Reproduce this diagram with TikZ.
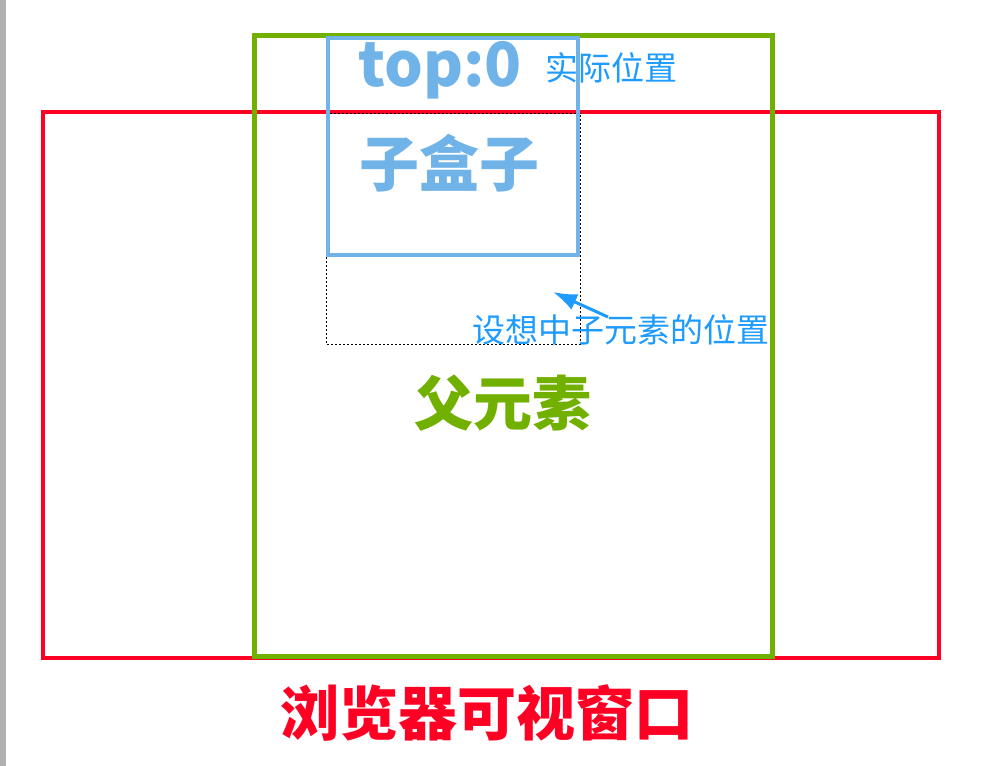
\documentclass[tikz,border=0pt]{standalone}
\usepackage{fontspec}
\newfontfamily\cjk{Noto Sans CJK SC}
\IfFontExistsTF{Noto Sans CJK SC Black}
  {\newfontfamily\cjkb{Noto Sans CJK SC Black}}
  {\newfontfamily\cjkb{Noto Sans CJK SC Bold}}
\usetikzlibrary{arrows.meta}
\definecolor{redc}{HTML}{FF0024}
\definecolor{greenc}{HTML}{72B000}
\definecolor{boxblue}{HTML}{6FB3E8}
\definecolor{textblue}{HTML}{1E9BFF}
\definecolor{grayc}{HTML}{B0B0B0}
\begin{document}
\begin{tikzpicture}[x=1pt,y=-1pt,
  lbl/.style={inner sep=0pt,anchor=center},
  bigtxt/.style={lbl,font=\cjkb\fontsize{58}{58}\selectfont},
  smalltxt/.style={lbl,font=\cjk\fontsize{33}{33}\selectfont,text=textblue}]
\useasboundingbox[fill=white] (0,0) rectangle (1005,766);
\fill[grayc] (0,0) rectangle (6,766);
\draw[redc,line width=4.5pt] (43,112) rectangle (939,658);
\draw[greenc,line width=5pt] (254,35) rectangle (772,656);
\draw[black,line width=0.7pt,dash pattern=on 2pt off 2pt] (326,113) rectangle (580,344);
\draw[boxblue,line width=4.5pt] (328,38) rectangle (578,255);
\node[lbl,font=\cjkb\fontsize{61}{61}\selectfont,text=boxblue] (top) at (440,70) {top:0};
\node[bigtxt,text=boxblue,font=\cjkb\fontsize{60}{60}\selectfont] (child) at (449,163) {子盒子};
\node[smalltxt] (actual) at (611,68) {实际位置};
\node[smalltxt] (assume) at (621,330) {设想中子元素的位置};
\node[bigtxt,text=greenc,font=\cjkb\fontsize{59}{59}\selectfont] (parent) at (503,403) {父元素};
\node[bigtxt,text=redc,font=\cjkb\fontsize{59}{59}\selectfont] (viewport) at (487,713) {浏览器可视窗口};
\coordinate (tail) at (608,317);
\coordinate (tip) at (553,292);
\draw[textblue,line width=3pt,-{Latex[length=24pt,width=17pt]}] (tail) -- (tip);
\end{tikzpicture}
\end{document}
